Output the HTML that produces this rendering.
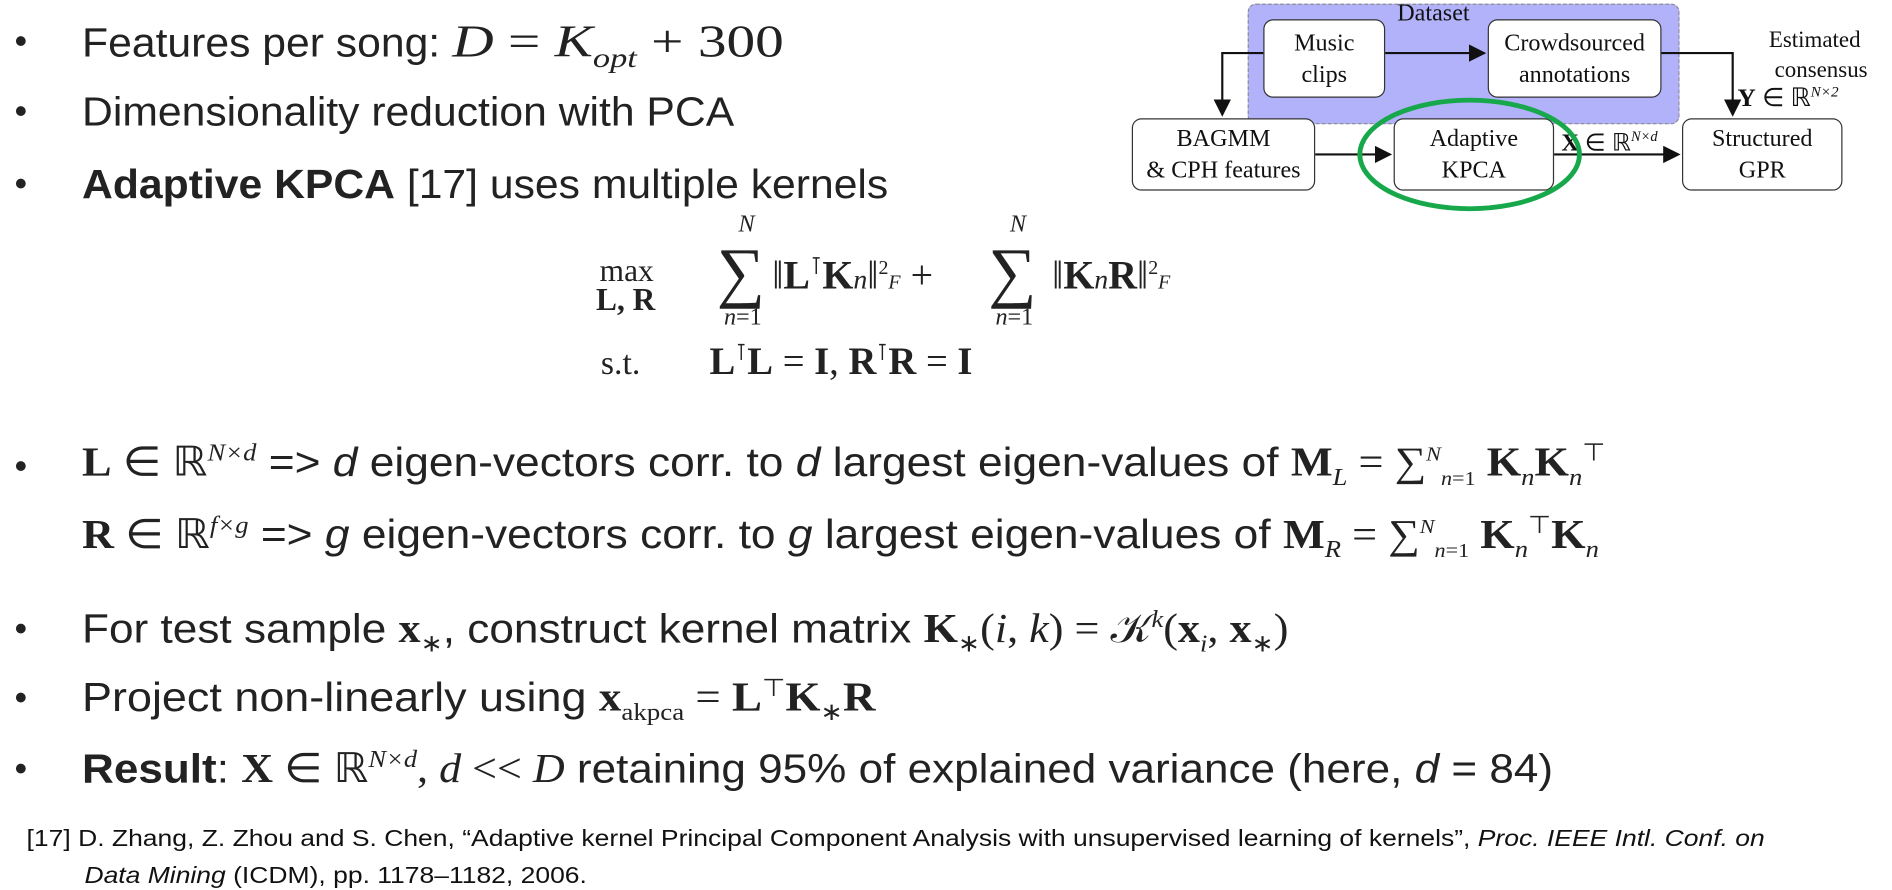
<!DOCTYPE html>
<html><head><meta charset="utf-8"><style>
html,body{margin:0;padding:0;background:#fff;width:1892px;height:890px;overflow:hidden}
#s{position:absolute;left:0;top:0;width:1568px;height:738px;transform:scale(1.2066);transform-origin:0 0;font-family:"Liberation Sans",sans-serif;color:#222}
.t{position:absolute;white-space:nowrap;font-size:34px;line-height:1;transform-origin:0 0}
.m{font-family:"Liberation Serif",serif}
.mm{font-family:"Liberation Serif",serif;font-size:1.1em}
.i{font-style:italic}
.b{font-weight:bold}
.bu{position:absolute;left:12px;font-size:30px}
sub,sup{font-size:60%}
.box{position:absolute;border:1.5px solid #333;border-radius:8px;background:#fff;font-family:"Liberation Serif",serif;font-size:20px;text-align:center;display:flex;align-items:center;justify-content:center;line-height:1.3;color:#111;box-sizing:border-box}
</style></head><body><div id="s">
<div class="bu" style="top:18px">•</div><div class="t" style="left:68px;top:16px;transform:scaleX(1.04)">Features per song: <span class="m" style="font-size:1.12em;display:inline-block;transform:scaleX(1.2);transform-origin:0 0"><i>D</i> = <i>K<sub>opt</sub></i> + 300</span></div>
<div class="bu" style="top:76px">•</div><div class="t" style="left:68px;top:76px;transform:scaleX(1.04)">Dimensionality reduction with PCA</div>
<div class="bu" style="top:136px">•</div><div class="t" style="left:68px;top:136px;transform:scaleX(1.04)"><b>Adaptive KPCA</b> [17] uses multiple kernels</div>

<div class="t m" style="left:497px;top:212px;font-size:26px">max</div>
<div class="t m b" style="left:494px;top:236px;font-size:26px">L, R</div>
<div class="t m i" style="left:612px;top:176px;font-size:20px">N</div>
<div class="t m" style="left:594px;top:198px;font-size:56px">∑</div>
<div class="t m" style="left:600px;top:253px;font-size:20px"><i>n</i>=1</div>
<div class="t m" style="left:640px;top:212px;font-size:33px">‖<b>L</b><sup>⊺</sup><b>K</b><i style="font-size:70%">n</i>‖<sup><small>2</small></sup><i style="font-size:50%">F</i> +</div>
<div class="t m i" style="left:837px;top:176px;font-size:20px">N</div>
<div class="t m" style="left:819px;top:198px;font-size:56px">∑</div>
<div class="t m" style="left:825px;top:253px;font-size:20px"><i>n</i>=1</div>
<div class="t m" style="left:872px;top:212px;font-size:33px">‖<b>K</b><i style="font-size:70%">n</i><b>R</b>‖<sup><small>2</small></sup><i style="font-size:50%">F</i></div>
<div class="t m" style="left:498px;top:288px;font-size:28px">s.t.</div>
<div class="t m" style="left:588px;top:283px;font-size:32px"><b>L</b><sup>⊺</sup><b>L</b> = <b>I</b>, <b>R</b><sup>⊺</sup><b>R</b> = <b>I</b></div>

<div class="bu" style="top:370px">•</div>
<div class="t" style="left:68px;top:366px;transform:scaleX(1.08)"><span class="m"><b>L</b> ∈ ℝ<sup class="i">N×d</sup></span> => <i>d</i> eigen-vectors corr. to <i>d</i> largest eigen-values of <span class="m"><b>M</b><sub class="i">L</sub> = ∑<sup class="i" style="font-size:50%">N</sup><sub style="font-size:50%"><i>n</i>=1</sub> <b>K</b><sub class="i">n</sub><b>K</b><sub class="i">n</sub><sup>⊤</sup></span></div>
<div class="t" style="left:68px;top:426px;transform:scaleX(1.08)"><span class="m"><b>R</b> ∈ ℝ<sup class="i">f×g</sup></span> => <i>g</i> eigen-vectors corr. to <i>g</i> largest eigen-values of <span class="m"><b>M</b><sub class="i">R</sub> = ∑<sup class="i" style="font-size:50%">N</sup><sub style="font-size:50%"><i>n</i>=1</sub> <b>K</b><sub class="i">n</sub><sup>⊤</sup><b>K</b><sub class="i">n</sub></span></div>

<div class="bu" style="top:505px">•</div><div class="t" style="left:68px;top:504px;transform:scaleX(1.076)">For test sample <span class="m"><b>x</b><sub>∗</sub></span>, construct kernel matrix <span class="m"><b>K</b><sub>∗</sub>(<i>i</i>, <i>k</i>) = 𝒦<sup class="i">k</sup>(<b>x</b><sub class="i">i</sub>, <b>x</b><sub>∗</sub>)</span></div>
<div class="bu" style="top:562px">•</div><div class="t" style="left:68px;top:561px;transform:scaleX(1.095)">Project non-linearly using <span class="m"><b>x</b><sub>akpca</sub> = <b>L</b><sup>⊤</sup><b>K</b><sub>∗</sub><b>R</b></span></div>
<div class="bu" style="top:621px">•</div><div class="t" style="left:68px;top:620px;transform:scaleX(1.074)"><b>Result</b>: <span class="m"><b>X</b> ∈ ℝ<sup class="i">N×d</sup>, <i>d</i> &lt;&lt; <i>D</i></span> retaining 95% of explained variance (here, <i>d</i> = 84)</div>

<div class="t" style="left:22px;top:686px;font-size:19px;color:#111;transform:scaleX(1.155)">[17] D. Zhang, Z. Zhou and S. Chen, “Adaptive kernel Principal Component Analysis with unsupervised learning of kernels”, <i>Proc. IEEE Intl. Conf. on</i></div>
<div class="t" style="left:70px;top:717px;font-size:19px;color:#111;transform:scaleX(1.155)"><i>Data Mining</i> (ICDM), pp. 1178–1182, 2006.</div>

<div style="position:absolute;left:1034px;top:3px;width:358px;height:100px;background:#b2b2fb;border:1.5px dashed #888;border-radius:7px;box-sizing:border-box"></div>
<div class="t m" style="left:1158px;top:1px;font-size:20px;color:#111">Dataset</div>
<svg style="position:absolute;left:0;top:0" width="1568" height="738">
<defs><marker id="a" markerWidth="8" markerHeight="8" refX="7" refY="4" orient="auto"><path d="M0,0L8,4L0,8z" fill="#111"/></marker></defs>
<g stroke="#111" stroke-width="1.8" fill="none">
<path d="M1148,44H1230" marker-end="url(#a)"/>
<path d="M1047,44H1013V95" marker-end="url(#a)"/>
<path d="M1377,44H1436V95" marker-end="url(#a)"/>
<path d="M1090,128H1152" marker-end="url(#a)"/>
<path d="M1288,128H1391" marker-end="url(#a)"/>
</g></svg>
<div class="box" style="left:1047px;top:16px;width:101px;height:65px">Music<br>clips</div>
<div class="box" style="left:1233px;top:16px;width:144px;height:65px">Crowdsourced<br>annotations</div>
<div class="box" style="left:938px;top:98px;width:152px;height:60px">BAGMM<br>&amp; CPH features</div>
<div class="box" style="left:1155px;top:98px;width:133px;height:60px">Adaptive<br>KPCA</div>
<div class="box" style="left:1394px;top:98px;width:133px;height:60px">Structured<br>GPR</div>
<div class="t m" style="left:1466px;top:22px;font-size:19px;line-height:1.3;color:#111">Estimated<br>&nbsp;consensus</div>
<div class="t m" style="left:1440px;top:70px;font-size:21px;color:#111"><b>Y</b> ∈ ℝ<sup class="i">N×2</sup></div>
<div class="t m" style="left:1294px;top:107px;font-size:20px;color:#111"><b>X</b> ∈ ℝ<sup class="i">N×d</sup></div>
<svg style="position:absolute;left:0;top:0" width="1568" height="738"><ellipse cx="1218" cy="128" rx="91" ry="45" fill="none" stroke="#18a84c" stroke-width="4"/></svg>
</div></body></html>
